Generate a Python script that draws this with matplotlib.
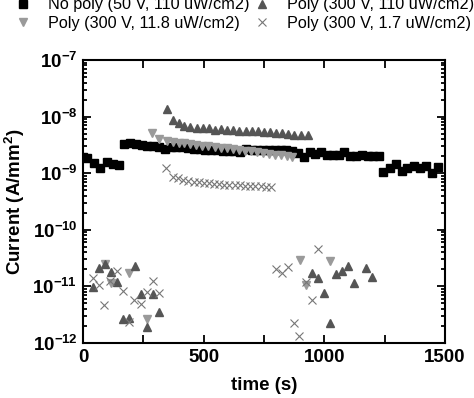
import matplotlib
matplotlib.use("Agg")
import matplotlib.pyplot as plt
from matplotlib.ticker import MultipleLocator, LogLocator, FixedLocator, FixedFormatter, NullFormatter

plt.rcParams['font.family'] = ['Liberation Sans', 'DejaVu Sans']
plt.rcParams['mathtext.fontset'] = 'custom'
plt.rcParams['mathtext.rm'] = 'Liberation Sans'
plt.rcParams['mathtext.bf'] = 'Liberation Sans:bold'
plt.rcParams['mathtext.it'] = 'Liberation Sans:italic'

# ---- No poly (50 V, 110 uW/cm2) ----
nopoly_t = [0, 18, 46, 70, 98, 123, 150,
            171, 195, 219, 243, 267, 291, 315, 339, 363, 387, 411, 435, 459, 483, 507,
            531, 555, 579, 603, 627, 651, 675, 699, 723, 747, 771, 795, 819, 843, 867,
            891, 915, 939, 963, 987, 1011, 1035, 1059, 1083, 1107, 1131, 1155, 1179, 1203, 1227,
            1244, 1272, 1297, 1321, 1344, 1372, 1397, 1421, 1446, 1472]
nopoly_i = [1.93e-9, 1.83e-9, 1.50e-9, 1.25e-9, 1.60e-9, 1.44e-9, 1.40e-9,
            3.28e-9, 3.46e-9, 3.24e-9, 3.09e-9, 3.06e-9, 3.06e-9, 2.90e-9, 2.68e-9, 2.96e-9, 2.90e-9,
            2.85e-9, 2.79e-9, 2.73e-9, 2.68e-9, 2.62e-9, 2.57e-9, 2.52e-9, 2.47e-9, 2.42e-9, 2.42e-9,
            2.40e-9, 2.73e-9, 2.57e-9, 2.52e-9, 2.52e-9, 2.57e-9, 2.57e-9, 2.52e-9, 2.52e-9, 2.47e-9,
            2.25e-9, 1.96e-9, 2.40e-9, 2.14e-9, 2.40e-9, 2.10e-9, 2.10e-9, 2.06e-9, 2.34e-9, 2.01e-9,
            2.01e-9, 2.06e-9, 2.01e-9, 2.01e-9, 2.01e-9,
            1.04e-9, 1.25e-9, 1.44e-9, 1.11e-9, 1.25e-9, 1.36e-9, 1.22e-9, 1.36e-9, 1.02e-9, 1.30e-9]

# ---- Poly (300 V, 110 uW/cm2) ----
p110_t = [349, 374, 396, 420, 443, 471, 496, 522, 547, 572, 598, 623, 648, 674, 699, 724,
          750, 775, 800, 826, 851, 876, 902, 931,
          40, 66, 91, 116, 140, 217, 240, 291, 315, 165, 191, 266,
          950, 975, 999, 1024, 1048, 1073, 1098, 1124, 1173, 1199]
p110_i = [1.36e-8, 8.71e-9, 7.62e-9, 6.91e-9, 6.64e-9, 6.37e-9, 6.21e-9, 6.21e-9, 5.80e-9,
          5.97e-9, 5.80e-9, 5.80e-9, 5.63e-9, 5.63e-9, 5.63e-9, 5.57e-9, 5.41e-9, 5.28e-9,
          5.07e-9, 5.07e-9, 4.87e-9, 4.79e-9, 4.73e-9, 4.73e-9,
          9.64e-12, 2.09e-11, 2.46e-11, 1.82e-11, 1.18e-11, 2.32e-11, 7.24e-12, 7.24e-12,
          3.57e-12, 2.66e-12, 2.73e-12, 1.89e-12,
          1.70e-11, 1.39e-11, 7.55e-12, 2.29e-12, 1.64e-11, 1.87e-11, 2.32e-11, 1.14e-11,
          2.14e-11, 1.45e-11]

# ---- Poly (300 V, 11.8 uW/cm2) ----
p118_t = [285, 315, 347, 372, 396, 420, 445, 470, 495, 520, 545, 570, 595, 620, 645, 670,
          695, 720, 745, 770, 795, 820, 845, 865,
          91, 116, 191, 264, 899, 1024, 923]
p118_i = [5.07e-9, 4.02e-9, 3.71e-9, 3.56e-9, 3.48e-9, 3.37e-9, 3.28e-9, 3.15e-9, 3.06e-9,
          2.99e-9, 2.90e-9, 2.82e-9, 2.75e-9, 2.68e-9, 2.57e-9, 2.50e-9, 2.42e-9, 2.34e-9,
          2.27e-9, 2.18e-9, 2.12e-9, 2.07e-9, 2.01e-9, 1.96e-9,
          2.53e-11, 1.14e-11, 1.70e-11, 2.62e-12, 2.92e-11, 2.84e-11, 1.06e-11]

# ---- Poly (300 V, 1.7 uW/cm2) ----
p17_t = [344, 372, 393, 415, 436, 458, 479, 500, 522, 543, 565, 586, 607, 629, 650, 671,
         693, 714, 736, 757, 778,
         40, 68, 88, 113, 142, 165, 191, 211, 239, 264, 291, 316,
         799, 823, 851, 973, 923, 948, 874, 896]
p17_i = [1.22e-9, 8.67e-10, 8.12e-10, 7.58e-10, 7.28e-10, 7.00e-10, 6.85e-10, 6.71e-10,
         6.58e-10, 6.45e-10, 6.45e-10, 6.31e-10, 6.19e-10, 6.19e-10, 6.11e-10, 6.06e-10,
         5.94e-10, 5.94e-10, 5.87e-10, 5.82e-10, 5.77e-10,
         1.39e-11, 1.06e-11, 4.69e-12, 1.26e-11, 1.89e-11, 8.30e-12, 2.38e-12, 5.75e-12,
         4.89e-12, 8.05e-12, 1.24e-11, 7.55e-12,
         2.00e-11, 1.70e-11, 2.23e-11, 4.53e-11, 1.21e-11, 5.75e-12, 2.29e-12, 1.33e-12]

labels = ["No poly (50 V, 110 uW/cm2)", "Poly (300 V, 110 uW/cm2)",
          "Poly (300 V, 11.8 uW/cm2)", "Poly (300 V, 1.7 uW/cm2)"]
yticks = [1e-12, 1e-11, 1e-10, 1e-9, 1e-8, 1e-7]
ytick_labels = [r'$\mathbf{10^{-12}}$', r'$\mathbf{10^{-11}}$', r'$\mathbf{10^{-10}}$',
                r'$\mathbf{10^{-9}}$', r'$\mathbf{10^{-8}}$', r'$\mathbf{10^{-7}}$']

fig = plt.figure(figsize=(4.74, 3.98), dpi=100)
ax = fig.add_axes([83/474, 1-343/398, (445-83)/474, (343-60)/398])

h1, = ax.plot(nopoly_t, nopoly_i, ls='none', marker='s', ms=5.2, color='black', mec='black', zorder=2)
h3, = ax.plot(p118_t, p118_i, ls='none', marker='v', ms=6.3, color='#9a9a9a', mec='#9a9a9a', zorder=3)
h2, = ax.plot(p110_t, p110_i, ls='none', marker='^', ms=6.3, color='#555555', mec='#555555', zorder=4)
h4, = ax.plot(p17_t, p17_i, ls='none', marker='x', ms=6, mew=0.8, color='#777777', zorder=5)

ax.set_yscale('log')
ax.set_xlim(0, 1500)
ax.set_ylim(1e-12, 1e-7)
ax.xaxis.set_major_locator(MultipleLocator(500))
ax.xaxis.set_minor_locator(MultipleLocator(250))
ax.yaxis.set_major_locator(FixedLocator(yticks))
ax.yaxis.set_major_formatter(FixedFormatter(ytick_labels))
ax.yaxis.set_minor_locator(LogLocator(base=10, subs=range(2, 10), numticks=20))
ax.yaxis.set_minor_formatter(NullFormatter())

ax.tick_params(which='both', direction='in', top=True, right=True, width=1.3)
ax.tick_params(which='major', length=6, labelsize=13.5, pad=4)
ax.tick_params(which='minor', length=3)
ax.tick_params(axis='x', which='minor', length=6)
for lab in ax.get_xticklabels():
    lab.set_fontweight('bold')
for s in ax.spines.values():
    s.set_linewidth(1.5)

ax.set_xlabel('time (s)', fontsize=13.5, fontweight='bold', labelpad=8)
ax.set_ylabel(r'Current (A/mm$\mathbf{^2}$)', fontsize=13.5, fontweight='bold', labelpad=4)

fig.legend([h1, h3, h2, h4], [labels[0], labels[2], labels[1], labels[3]],
           ncol=2, loc='upper left', bbox_to_anchor=(0.0142, 1.023), frameon=False,
           fontsize=11.7, handlelength=1.2, handletextpad=0.94, columnspacing=0.14,
           labelspacing=0.2, borderaxespad=0)

fig.savefig('out.png', dpi=100)
